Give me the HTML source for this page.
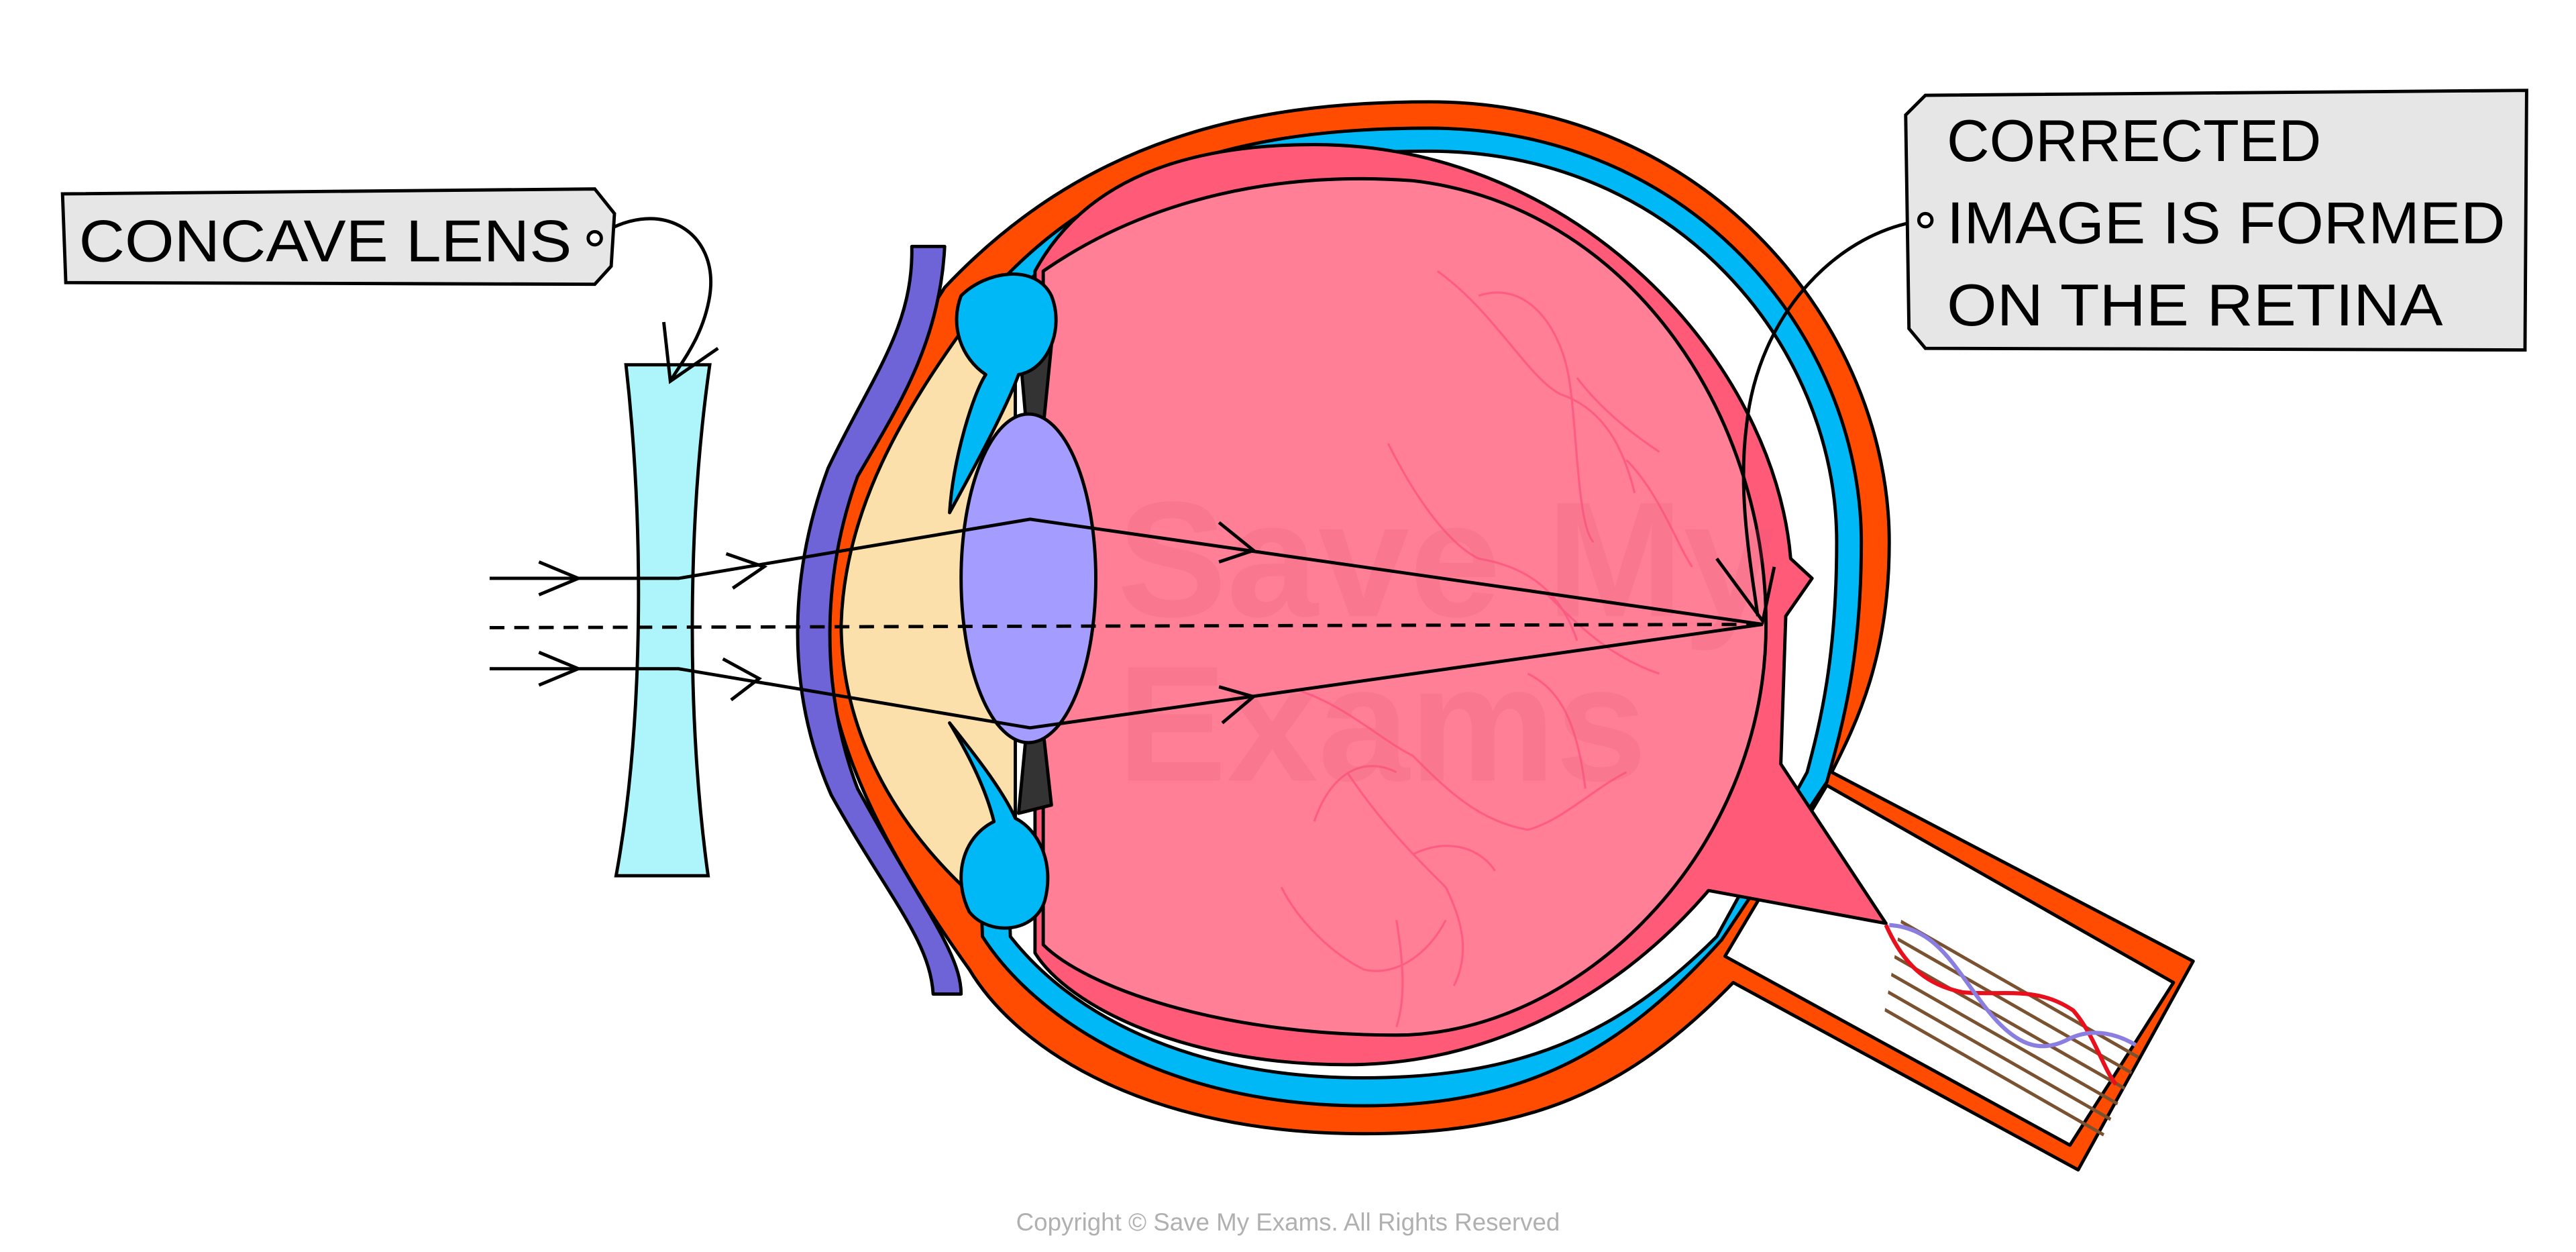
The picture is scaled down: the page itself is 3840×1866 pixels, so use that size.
<!DOCTYPE html>
<html><head><meta charset="utf-8"><style>html,body{margin:0;padding:0;background:#fff}svg{display:block}</style></head>
<body>
<svg width="3840" height="1866" viewBox="0 0 1568 762" xmlns="http://www.w3.org/2000/svg" font-family="Liberation Sans, sans-serif">
<defs>
<clipPath id="nv"><polygon points="1158,556 1305,636 1280,692 1146,622"/></clipPath>
</defs>
<g stroke="#000" stroke-width="2" stroke-linejoin="round">
<!-- sclera -->
<path fill="#ff4c00" d="M575,175 C660,85 760,62 870,62 C1040,62 1150,200 1150,330 C1150,400 1130,440 1115,470 L1335,585 L1265,712 L1055,598 C990,665 930,690 830,690 C700,690 620,640 590,590 C540,520 502,450 502,380 C502,300 540,230 575,175 Z"/>
<polygon fill="#fff" points="1112,478 1323,598 1260,697 1050,582"/>
<!-- choroid -->
<path fill="#00b8f5" d="M585,200 C660,100 760,78 870,78 C1030,78 1133,205 1133,330 C1133,400 1122,440 1112,476 L1048,572 C985,642 925,673 830,673 C710,673 630,620 598,570 Z"/>
<path fill="#fff" d="M600,200 C670,110 770,92 870,92 C1020,92 1118,210 1118,330 C1118,400 1108,440 1100,470 L1045,570 C985,630 925,656 830,656 C720,656 650,615 615,570 Z"/>
<!-- retina -->
<path fill="#ff5a78" d="M630,165 C660,110 720,88 800,88 C960,88 1080,220 1090,340 L1103,352 L1087,375 L1084,465 L1148,562 L1040,542 C980,612 900,648 820,648 C720,648 650,612 630,580 Z"/>
<path fill="#ff7f96" d="M635,165 C700,120 780,104 860,110 C990,125 1075,250 1075,380 C1075,520 960,630 850,630 C740,630 660,600 635,575 Z"/>
</g>
<!-- vessels -->
<g fill="none" stroke="#ff5c84" stroke-width="1.3">
<path d="M875,165 C910,190 930,230 950,240 C980,250 990,280 995,300"/>
<path d="M900,180 C930,170 950,200 955,230 C960,260 960,320 970,330"/>
<path d="M960,230 C975,250 995,265 1010,275"/>
<path d="M845,270 C860,300 880,330 900,340 C930,345 950,360 960,390"/>
<path d="M940,360 C960,380 980,400 1010,410"/>
<path d="M930,410 C950,420 960,440 965,480"/>
<path d="M790,420 C820,430 840,450 860,460 C880,480 900,500 930,505 C950,500 970,480 990,470"/>
<path d="M820,470 C840,500 860,520 880,540 C890,560 895,580 885,600"/>
<path d="M780,540 C790,560 810,580 830,590 C850,595 870,580 880,560"/>
<path d="M800,500 C810,470 830,460 850,470"/>
<path d="M860,520 C880,510 900,515 910,530"/>
<path d="M850,560 C855,590 855,610 850,625"/>
<path d="M990,280 C1010,300 1020,330 1030,345"/>
</g>
<!-- watermark -->
<g fill="#e25a78" opacity="0.18" font-weight="bold" font-size="100">
<text x="680" y="375">Save My</text><text x="680" y="475">Exams</text>
</g>
<g stroke="#000" stroke-width="2" stroke-linejoin="round">
<!-- aqueous -->
<path fill="#fbe0ac" d="M590,195 C550,250 514,310 512,380 C512,450 550,510 600,552 L618,552 L618,198 Z"/>
<!-- cornea -->
<path fill="#6f63d8" d="M555,150 L575,150 C572,210 545,250 522,290 C500,350 499,420 522,480 C560,550 585,580 585,605 L568,605 C566,572 540,545 506,484 C478,420 480,350 504,285 C530,230 556,200 555,150 Z"/>
<!-- suspensory -->
<path fill="#333" d="M620,205 L640,210 L635,260 L625,262 Z"/>
<path fill="#333" d="M620,495 L640,490 L635,445 L625,443 Z"/>
<!-- ciliary -->
<path fill="#00b8f5" d="M585,180 C600,165 630,160 640,180 C648,200 638,225 620,228 C612,250 590,290 578,312 C580,280 592,240 600,228 C585,218 578,198 585,180 Z"/>
<path fill="#00b8f5" d="M578,440 C590,460 600,480 605,500 C585,510 580,535 590,555 C602,570 630,568 636,548 C642,525 632,505 618,498 C610,480 590,455 578,440 Z"/>
<!-- lens -->
<ellipse cx="626" cy="352" rx="41" ry="100" fill="#a59cff"/>
</g>
<!-- nerve fibres -->
<g clip-path="url(#nv)" stroke="#7a5230" stroke-width="2">
<line x1="1100" y1="540" x2="1350" y2="683"/>
<line x1="1095" y1="549" x2="1345" y2="692"/>
<line x1="1090" y1="558" x2="1340" y2="701"/>
<line x1="1085" y1="567" x2="1335" y2="710"/>
<line x1="1080" y1="576" x2="1330" y2="719"/>
<line x1="1075" y1="585" x2="1325" y2="728"/>
<line x1="1070" y1="594" x2="1320" y2="737"/>
<line x1="1065" y1="603" x2="1315" y2="746"/>
<line x1="1060" y1="612" x2="1310" y2="755"/>
<line x1="1055" y1="621" x2="1305" y2="764"/>
<line x1="1050" y1="630" x2="1300" y2="773"/>
<line x1="1045" y1="639" x2="1295" y2="782"/>
<line x1="1040" y1="648" x2="1290" y2="791"/>
<line x1="1105" y1="531" x2="1355" y2="674"/>
</g>
<path d="M1148,563 C1160,590 1175,600 1195,604 C1220,606 1240,600 1262,615 C1275,630 1280,650 1288,660" fill="none" stroke="#e8101c" stroke-width="2.5"/>
<path d="M1150,563 C1180,565 1190,590 1210,615 C1230,640 1245,640 1260,632 C1275,625 1290,630 1300,636" fill="none" stroke="#8a7ee0" stroke-width="2.5"/>
<!-- concave lens -->
<path d="M381,222 L432,222 C418,320 418,440 431,533 L375,533 C392,440 392,320 381,222 Z" fill="#aef5fb" stroke="#000" stroke-width="2"/>
<!-- rays -->
<g fill="none" stroke="#000" stroke-width="2">
<path d="M298,352 L413,352 L627,316 L1073,380"/>
<path d="M298,407 L413,407 L627,443 L1073,380"/>
<path d="M298,382 L1073,380" stroke-dasharray="9,6"/>
<path d="M328,342 L352,352 L328,362"/>
<path d="M328,397 L352,407 L328,417"/>
<path d="M442,337 L465,345 L446,358"/>
<path d="M440,401 L462,413 L445,426"/>
<path d="M742,318 L763,335 L742,342"/>
<path d="M742,418 L763,424 L744,440"/>
<path d="M1045,340 L1073,378 L1080,345"/>
<path d="M362,145 C400,118 438,140 432,180 C428,205 415,220 408,232"/>
<path d="M404,196 L408,232 L437,212"/>
<path d="M1172,134 C1120,140 1070,190 1063,260 C1058,300 1065,340 1070,375"/>
</g>
<!-- labels -->
<g stroke="#000" stroke-width="2" fill="#e6e6e6">
<path d="M38,118 L362,115 L374,130 L372,162 L362,173 L40,172 Z"/>
<path d="M1172,58 L1538,55 L1537,213 L1172,212 L1162,200 L1160,70 Z"/>
</g>
<circle cx="362" cy="145" r="4" fill="#fff" stroke="#000" stroke-width="2"/>
<circle cx="1172" cy="134" r="4" fill="#fff" stroke="#000" stroke-width="2"/>
<g font-size="36" fill="#000">
<text x="48" y="159" textLength="300" lengthAdjust="spacingAndGlyphs">CONCAVE LENS</text>
<text x="1185" y="98" textLength="228" lengthAdjust="spacingAndGlyphs">CORRECTED</text>
<text x="1185" y="148" textLength="340" lengthAdjust="spacingAndGlyphs">IMAGE IS FORMED</text>
<text x="1185" y="198" textLength="302" lengthAdjust="spacingAndGlyphs">ON THE RETINA</text>
</g>
<text x="784" y="749" font-size="15" fill="#b0b0b0" text-anchor="middle">Copyright © Save My Exams. All Rights Reserved</text>
</svg>
</body></html>
